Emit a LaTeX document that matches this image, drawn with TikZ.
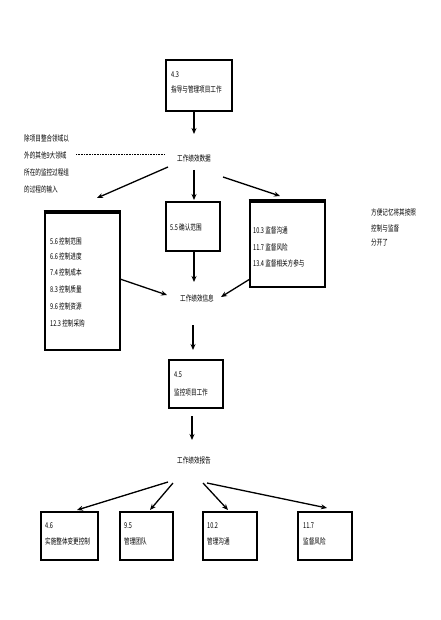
\documentclass[tikz,border=0pt]{standalone}
\usepackage{fontspec}
\setmainfont{Noto Sans CJK SC}
\usetikzlibrary{arrows.meta}
\newcommand{\nz}[1]{\scalebox{0.7}[1]{#1}}
\begin{document}
\begin{tikzpicture}[x=1pt,y=-1pt,
  box/.style={draw, line width=1.3pt, inner sep=0pt},
  thickbox/.style={draw, line width=2.6pt, inner sep=0pt},
  txt/.style={anchor=west, inner sep=0pt, font=\fontsize{8}{9}\selectfont},
  ctxt/.style={inner sep=0pt, font=\fontsize{8}{9}\selectfont},
  arr/.style={line width=1.3pt, -{Stealth[length=6pt,width=5pt]}},
]
\useasboundingbox (0,0) rectangle (440,620);
% boxes
\node[box, minimum width=66pt, minimum height=51pt] (b43) at (199,85.5) {};
\node[box, minimum width=54pt, minimum height=49pt] (b55) at (193,226.5) {};
\node[thickbox, minimum width=75pt, minimum height=85pt] (bR) at (287.5,244.5) {};
\node[thickbox, minimum width=75pt, minimum height=137pt] (bL) at (82.5,281.5) {};
\draw[line width=4.2pt] (bL.north west) -- (bL.north east);
\draw[line width=4.2pt] (bR.north west) -- (bR.north east);
\node[box, minimum width=54pt, minimum height=48pt] (b45) at (196,384) {};
\node[box, minimum width=57pt, minimum height=48pt] (b46) at (69.5,536) {};
\node[box, minimum width=53pt, minimum height=48pt] (b95) at (146.5,536) {};
\node[box, minimum width=54pt, minimum height=48pt] (b102) at (230,536) {};
\node[box, minimum width=54pt, minimum height=48pt] (b117) at (325,536) {};
% box texts
\node[txt] (t43a) at (171,75) {\nz{4.3}};
\node[txt] (t43b) at (171,89) {\nz{指导与管理项目工作}};
\node[txt] (t55) at (170,227) {\nz{5.5 确认范围}};
\node[txt] (tR1) at (253,230) {\nz{10.3 监督沟通}};
\node[txt] (tR2) at (253,247) {\nz{11.7 监督风险}};
\node[txt] (tR3) at (253,263) {\nz{13.4 监督相关方参与}};
\node[txt] (tL1) at (50,241) {\nz{5.6 控制范围}};
\node[txt] (tL2) at (50,256) {\nz{6.6 控制进度}};
\node[txt] (tL3) at (50,272) {\nz{7.4 控制成本}};
\node[txt] (tL4) at (50,289) {\nz{8.3 控制质量}};
\node[txt] (tL5) at (50,306) {\nz{9.6 控制资源}};
\node[txt] (tL6) at (50,323) {\nz{12.3 控制采购}};
\node[txt] (t45a) at (174,375) {\nz{4.5}};
\node[txt] (t45b) at (174,392) {\nz{监控项目工作}};
\node[txt] (t46a) at (45,526) {\nz{4.6}};
\node[txt] (t46b) at (45,541) {\nz{实施整体变更控制}};
\node[txt] (t95a) at (124,526) {\nz{9.5}};
\node[txt] (t95b) at (124,541) {\nz{管理团队}};
\node[txt] (t102a) at (207,526) {\nz{10.2}};
\node[txt] (t102b) at (207,541) {\nz{管理沟通}};
\node[txt] (t117a) at (303,526) {\nz{11.7}};
\node[txt] (t117b) at (303,541) {\nz{监督风险}};
% free labels
\node[ctxt] (d1) at (194,158) {\nz{工作绩效数据}};
\node[ctxt] (d2) at (197,298) {\nz{工作绩效信息}};
\node[ctxt] (d3) at (194,460) {\nz{工作绩效报告}};
\node[txt] (n1) at (24,138) {\nz{除项目整合领域以}};
\node[txt] (n2) at (24,155) {\nz{外的其他9大领域}};
\node[txt] (n3) at (24,172) {\nz{所在的监控过程组}};
\node[txt] (n4) at (24,189) {\nz{的过程的输入}};
\node[txt] (m1) at (371,212) {\nz{方便记忆将其按照}};
\node[txt] (m2) at (371,228) {\nz{控制与监督}};
\node[txt] (m3) at (371,243) {\nz{分开了}};
% connector end points
\coordinate (dotA) at (76,154);
\coordinate (dotB) at (165,154);
\coordinate (a1s) at (194,112); \coordinate (a1e) at (194,134);
\coordinate (a2s) at (168,167); \coordinate (a2e) at (97,198);
\coordinate (a3s) at (194,170); \coordinate (a3e) at (194,200);
\coordinate (a4s) at (223,177); \coordinate (a4e) at (280,196);
\coordinate (a5s) at (120,279); \coordinate (a5e) at (167,295);
\coordinate (a6s) at (194,252); \coordinate (a6e) at (194,282);
\coordinate (a7s) at (250,279); \coordinate (a7e) at (221,297);
\coordinate (a8s) at (193,325); \coordinate (a8e) at (193,350);
\coordinate (a9s) at (192,416); \coordinate (a9e) at (192,440);
\coordinate (a10s) at (168,482); \coordinate (a10e) at (77,510);
\coordinate (a11s) at (173,483); \coordinate (a11e) at (150,510);
\coordinate (a12s) at (203,483); \coordinate (a12e) at (228,510);
\coordinate (a13s) at (207,483); \coordinate (a13e) at (327,508);
% connectors
\draw[densely dotted, line width=0.6pt] (dotA) -- (dotB);
\draw[arr] (a1s) -- (a1e);
\draw[arr] (a2s) -- (a2e);
\draw[arr] (a3s) -- (a3e);
\draw[arr] (a4s) -- (a4e);
\draw[arr] (a5s) -- (a5e);
\draw[arr] (a6s) -- (a6e);
\draw[arr] (a7s) -- (a7e);
\draw[arr] (a8s) -- (a8e);
\draw[arr] (a9s) -- (a9e);
\draw[arr] (a10s) -- (a10e);
\draw[arr] (a11s) -- (a11e);
\draw[arr] (a12s) -- (a12e);
\draw[arr] (a13s) -- (a13e);
\end{tikzpicture}
\end{document}
